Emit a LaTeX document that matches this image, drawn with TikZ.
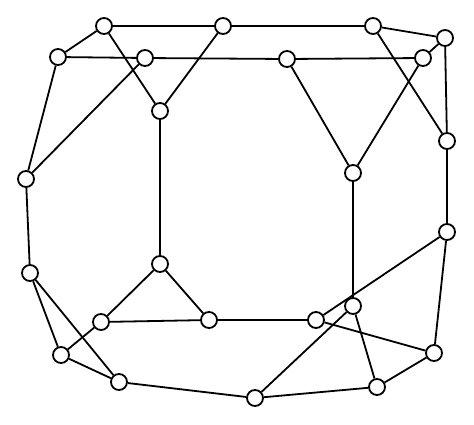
\documentclass[tikz,border=0pt]{standalone}
\begin{document}
\begin{tikzpicture}[x=1pt,y=-1pt,line width=1.8pt,
  vtx/.style={circle,draw,fill=white,inner sep=0pt,minimum size=16pt}]
  \useasboundingbox (0,0) rectangle (474,424);
  \foreach \n/\x/\y in {A/104/26,F/223/26,G/373/26,H/445/38,B/58/57,C/145/58,
    J/287/59,I/423/58,D/160/111,K/447/141,L/353/173,E/26/179,T/447/232,
    N/160/264,M/30/273,U/353/306,P/209/320,V/316/320,O/101/322,Q/61/355,
    W/434/353,R/119/382,X/377/387,S/255/398} % vertices
    \node[vtx] (\n) at (\x,\y) {};
  \foreach \a/\b in {A/F,F/G,G/H,A/B,A/D,F/D,B/C,B/E,C/E,C/J,J/I,H/I,G/K,H/K,
    J/L,I/L,D/N,L/U,K/T,E/M,M/Q,M/R,N/O,N/P,O/P,O/Q,Q/R,R/S,P/V,T/V,T/W,
    V/W,U/S,U/X,S/X,X/W} % edges
    \draw (\a) -- (\b);
\end{tikzpicture}
\end{document}
